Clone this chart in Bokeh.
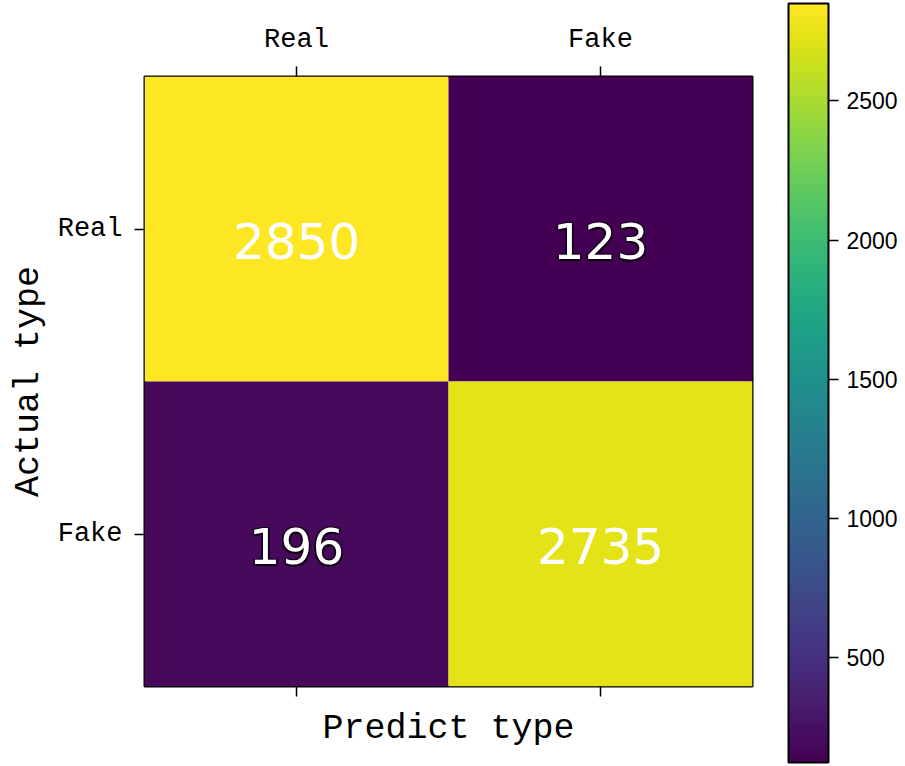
from bokeh.plotting import figure
from bokeh.models import ColumnDataSource, CategoricalAxis, FixedTicker, LinearColorMapper, ColorBar
from bokeh.transform import transform
from bokeh.palettes import Viridis256
from bokeh.core.properties import value
from bokeh.embed import file_html
from bokeh.resources import INLINE

# ---- data ----
actual_type = ["Real", "Real", "Fake", "Fake"]
predict_type = ["Real", "Fake", "Real", "Fake"]
counts = [2850, 123, 196, 2735]
x_labels = ["Real", "Fake"]
y_labels = ["Real", "Fake"]
cbar_ticks = [500, 1000, 1500, 2000, 2500]

low, high = min(counts), max(counts)
mid = (low + high) / 2

src = ColumnDataSource(dict(
    pred=predict_type,
    act=actual_type,
    count=counts,
    label=[str(c) for c in counts],
))
dark = [i for i, c in enumerate(counts) if c < mid]
halo_src = ColumnDataSource(dict(
    pred=[predict_type[i] for i in dark],
    act=[actual_type[i] for i in dark],
    label=[str(counts[i]) for i in dark],
))

mapper = LinearColorMapper(palette=Viridis256, low=low, high=high)
LABEL_FONT = "Liberation Mono"

p = figure(x_range=x_labels, y_range=y_labels[::-1],
           frame_width=608, frame_height=610,
           min_border_left=144, min_border_top=76, min_border_bottom=80, min_border_right=0,
           x_axis_location="above", toolbar_location=None, output_backend="svg")
p.title.visible = False

p.rect(x="pred", y="act", width=1, height=1, source=src,
       fill_color=transform("count", mapper), line_color=None)

for dx, dy in [(-1.5, -1.5), (1.5, -1.5), (-1.5, 1.5), (1.5, 1.5)]:
    p.text(x="pred", y="act", text="label", source=halo_src, text_align="center", text_baseline="middle",
           text_font=value("DejaVu Sans"), text_font_size="50px",
           text_color="black", text_alpha=0.6, x_offset=dx, y_offset=12 + dy)
p.text(x="pred", y="act", text="label", source=src, text_align="center", text_baseline="middle",
       text_font=value("DejaVu Sans"), text_font_size="50px", text_color="white", y_offset=12)

p.grid.visible = False
p.outline_line_color = "black"
p.outline_line_width = 2

for ax in (p.xaxis[0], p.yaxis[0]):
    ax.axis_line_color = None
    ax.major_tick_out = 10
    ax.major_tick_in = 0
    ax.major_tick_line_color = "black"
    ax.major_tick_line_width = 1.5
    ax.major_label_text_font = LABEL_FONT
    ax.major_label_text_font_size = "27px"
    ax.major_label_text_color = "black"
    ax.major_label_standoff = 12

p.yaxis[0].axis_label = "Actual type"
p.yaxis[0].axis_label_text_font = LABEL_FONT
p.yaxis[0].axis_label_text_font_size = "35px"
p.yaxis[0].axis_label_text_font_style = "normal"
p.yaxis[0].axis_label_text_color = "black"
p.yaxis[0].axis_label_standoff = 6
p.yaxis[0].major_label_orientation = "horizontal"

bottom = CategoricalAxis(axis_label="Predict type")
bottom.axis_line_color = None
bottom.major_tick_out = 10
bottom.major_tick_in = 0
bottom.major_tick_line_color = "black"
bottom.major_tick_line_width = 1.5
bottom.major_label_overrides = {f: "" for f in x_labels}
bottom.major_label_text_font_size = "0px"
bottom.major_label_standoff = 0
bottom.axis_label_text_font = LABEL_FONT
bottom.axis_label_text_font_size = "35px"
bottom.axis_label_text_font_style = "normal"
bottom.axis_label_text_color = "black"
bottom.axis_label_standoff = 12
p.add_layout(bottom, "below")

# ---- colorbar ----
cbar = ColorBar(color_mapper=mapper, ticker=FixedTicker(ticks=cbar_ticks),
                width=40, height=759, location=(36, -76), padding=0, margin=0,
                bar_line_color="black", bar_line_width=2,
                major_tick_out=10, major_tick_in=0, major_tick_line_color="black",
                major_tick_line_width=1.5, minor_tick_line_color=None,
                major_label_text_font="Liberation Sans", major_label_text_font_size="23px",
                major_label_text_color="black", label_standoff=8,
                background_fill_color=None, border_line_color=None)
p.add_layout(cbar, "right")

open("out.html", "w").write(file_html(p, INLINE))
